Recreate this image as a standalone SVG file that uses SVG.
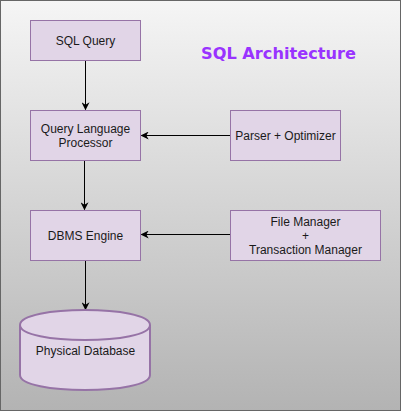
<svg xmlns="http://www.w3.org/2000/svg" width="401" height="411" viewBox="0 0 401 411">
<defs>
<linearGradient id="bg" x1="0" y1="0" x2="0" y2="1">
<stop offset="0" stop-color="#f5f5f5"/>
<stop offset="1" stop-color="#b3b3b3"/>
</linearGradient>
<marker id="arr" viewBox="0 0 10 10" refX="9" refY="5" markerWidth="8" markerHeight="8" markerUnits="userSpaceOnUse" orient="auto">
<path d="M0,0 L10,5 L0,10 L3,5 Z" fill="#000"/>
</marker>
<style>
.box{fill:#e1d5e7;stroke:#9673a6;stroke-width:1}
.lbl{font-family:"Liberation Sans",Arial,sans-serif;font-size:12px;fill:#1a1a1a;text-anchor:middle}
.edge{stroke:#000;stroke-width:1;fill:none;marker-end:url(#arr)}
</style>
</defs>
<rect x="0.5" y="0.5" width="400" height="410" fill="url(#bg)" stroke="#666666" stroke-width="1"/>
<text x="278.5" y="59" font-family="'Comic Sans MS','DejaVu Sans',sans-serif" font-weight="bold" font-size="16" fill="#9933ff" text-anchor="middle" textLength="155" lengthAdjust="spacingAndGlyphs">SQL Architecture</text>
<g id="edges">
<line class="edge" x1="85.5" y1="60.5" x2="85.5" y2="109.5"/>
<line class="edge" x1="84.5" y1="160.5" x2="84.5" y2="209.5"/>
<line class="edge" x1="230.5" y1="135.5" x2="141.5" y2="135.5"/>
<line class="edge" x1="230.5" y1="234.5" x2="141.5" y2="234.5"/>
<line class="edge" x1="85.5" y1="260.5" x2="85.5" y2="309.5"/>
</g>
<g id="sql-query">
<rect class="box" x="30.5" y="20.5" width="110" height="40"/>
<text class="lbl" x="85.5" y="45">SQL Query</text>
</g>
<g id="qlp">
<rect class="box" x="30.5" y="110.5" width="110" height="50"/>
<text class="lbl" x="85.5" y="133">Query Language</text>
<text class="lbl" x="85.5" y="147">Processor</text>
</g>
<g id="parser">
<rect class="box" x="230.5" y="110.5" width="110" height="50"/>
<text class="lbl" x="285.5" y="140">Parser + Optimizer</text>
</g>
<g id="dbms">
<rect class="box" x="30.5" y="210.5" width="110" height="50"/>
<text class="lbl" x="85.5" y="240">DBMS Engine</text>
</g>
<g id="filemgr">
<rect class="box" x="230.5" y="210.5" width="150" height="50"/>
<text class="lbl" x="305.5" y="226">File Manager</text>
<text class="lbl" x="305.5" y="240">+</text>
<text class="lbl" x="305.5" y="254">Transaction Manager</text>
</g>
<g id="database">
<path d="M20,325 C20,305 150,305 150,325 L150,375 C150,395 20,395 20,375 Z" fill="#e1d5e7" stroke="#9673a6" stroke-width="2"/>
<path d="M20,325 C20,345 150,345 150,325" fill="none" stroke="#9673a6" stroke-width="2"/>
<text class="lbl" x="85.5" y="355">Physical Database</text>
</g>
</svg>
